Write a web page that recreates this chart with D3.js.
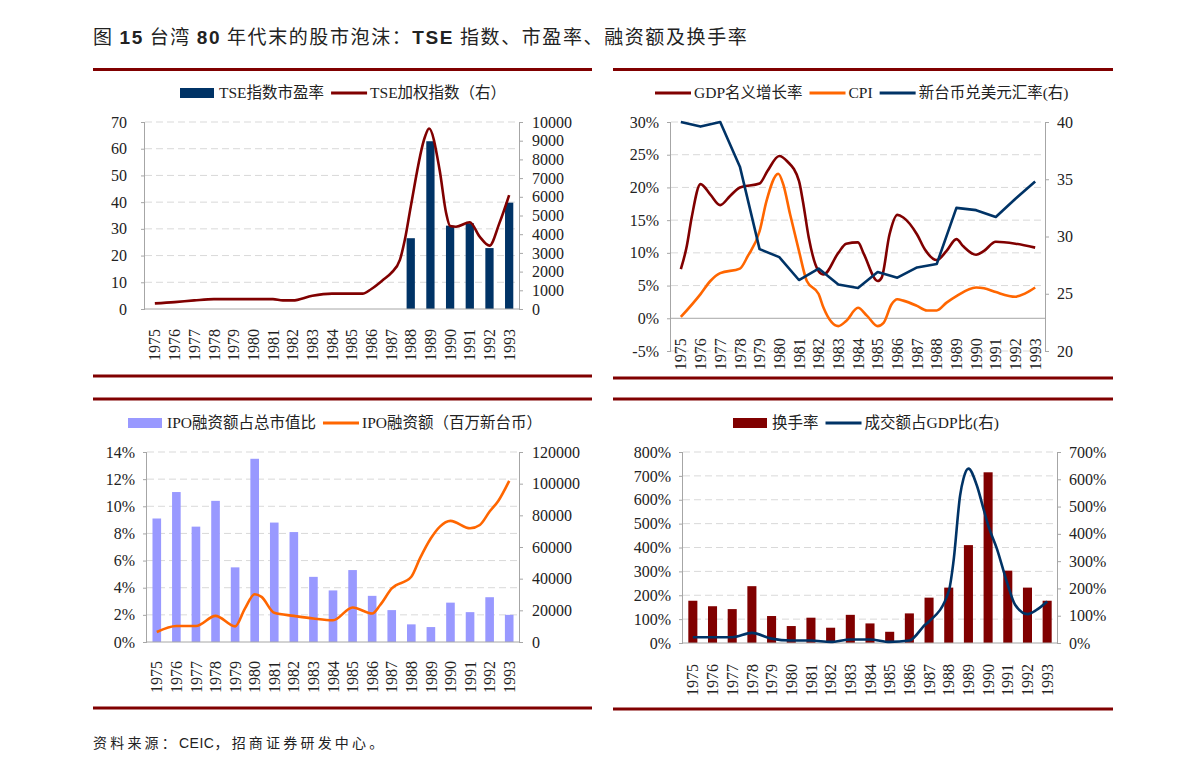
<!DOCTYPE html>
<html>
<head>
<meta charset="utf-8">
<script src="https://cdn.jsdelivr.net/npm/d3@7/dist/d3.min.js"></script>
<style>
  body { margin: 0; background: #fff; }
  svg { display: block; }
  text { font-family: "Liberation Serif", "Noto Sans CJK SC", serif; fill: #222; }
</style>
</head>
<body>
<div id="chart"></div>
<script>
// ---- data ----
const years = ["1975","1976","1977","1978","1979","1980","1981","1982","1983","1984",
               "1985","1986","1987","1988","1989","1990","1991","1992","1993"];

// panel 1: P/E (left) and TSE index (right)
const peRatio = [null,null,null,null,null,null,null,null,null,null,
                 null,null,null,26.5,62.8,31.2,32.1,22.8,39.8];
const tseIndex = [[1975,300],[1976,370],[1977,460],[1978,530],[1979,530],[1980,530],[1981,530],
  [1981.5,460],[1982,460],[1983,710],[1984,820],[1985,820],[1985.55,820],[1986,1070],[1986.6,1560],
  [1987,1920],[1987.45,2630],[1987.7,3700],[1988,5470],[1988.72,9200],[1988.93,9650],[1989.47,7420],
  [1989.8,5120],[1990,4440],[1990.3,4400],[1991,4640],[1991.5,3870],[1992,3390],[1992.5,4580],[1993,6090]];

// panel 2: nominal GDP growth, CPI (left, %) and TWD/USD (right)
const gdpGrowth = [[1975,7.5],[1975.3,11.0],[1975.55,15.4],[1976,20.5],[1976.5,18.9],[1977,17.3],
  [1977.5,18.7],[1978,20.0],[1979,20.6],[1979.4,22.5],[1980,24.8],[1980.4,24.0],[1981,21.0],
  [1981.2,17.9],[1981.5,12.3],[1982,7.2],[1982.25,6.7],[1983,10.0],[1983.4,11.4],[1984,11.6],
  [1984.3,9.8],[1985,5.7],[1985.2,6.2],[1985.6,12.8],[1986,15.8],[1986.3,15.4],[1987,12.8],
  [1987.4,10.5],[1988,8.9],[1988.5,10.3],[1989,12.1],[1989.35,11.0],[1990,9.7],[1990.4,10.3],
  [1991,11.7],[1992,11.4],[1993,10.8]];
const cpi = [[1975,0.2],[1976,3.7],[1976.5,5.7],[1977,6.9],[1978,7.6],[1978.4,9.5],[1979,13.3],
  [1979.35,17.9],[1979.95,22.1],[1980.2,20.5],[1980.55,15.9],[1981,10.3],[1981.4,5.7],[1982,3.7],
  [1982.25,1.6],[1983,-1.2],[1983.4,-0.4],[1984,1.6],[1984.45,0.4],[1985,-1.2],[1985.3,-0.7],
  [1985.7,2.1],[1986,2.9],[1986.3,2.7],[1987,1.9],[1987.5,1.2],[1988,1.2],[1988.5,2.4],[1989,3.4],
  [1990,4.7],[1990.4,4.6],[1991,4.0],[1992,3.3],[1992.5,3.8],[1993,4.7]];
const twdUsd = [40.0,39.6,40.0,36.1,28.9,28.2,26.2,27.2,25.8,25.5,26.9,26.4,27.3,27.6,32.5,32.3,31.7,33.3,34.8];

// panel 3: IPO share of market cap (left, %) and IPO amount (right, NT$ mn)
const ipoShare = [9.1,11.05,8.5,10.4,5.5,13.5,8.8,8.1,4.8,3.8,5.3,3.4,2.35,1.3,1.1,2.9,2.2,3.3,2.0];
const ipoAmount = [[1975,6300],[1976,10100],[1977,10100],[1978,16500],[1979,9900],[1979.5,21100],
  [1980,30200],[1980.35,28500],[1981,18400],[1982,16500],[1983,14800],[1984,13700],[1985,21800],
  [1986,18000],[1986.4,23200],[1987,33800],[1988,41200],[1988.44,52800],[1989,65500],[1989.46,72900],
  [1990,76500],[1991,71800],[1991.5,73900],[1992,82400],[1992.44,89100],[1993,101800]];

// panel 4: turnover (left, %) and trading value / GDP (right, %)
const turnover = [177,154,142,238,113,71,106,64,118,82,47,124,190,232,410,715,303,232,177];
const tradeGdp = [[1975,21],[1976,21],[1977,21],[1978,37],[1979,16],[1980,9],[1981,9],[1982,4],
  [1983,13],[1984,13],[1985,4],[1986,9],[1986.8,67],[1987,79],[1988,189],[1988.24,298],[1988.58,542],
  [1988.75,603],[1989,639],[1989.42,579],[1989.76,493],[1990,432],[1990.44,347],[1991,213],
  [1991.37,140],[1992,106],[1992.48,122],[1993,152]];

const leftTicks1 = [0,10,20,30,40,50,60,70];
const rightTicks1 = [0,1000,2000,3000,4000,5000,6000,7000,8000,9000,10000];
const leftTicks2 = [-5,0,5,10,15,20,25,30];
const rightTicks2 = [20,25,30,35,40];
const leftTicks3 = [0,2,4,6,8,10,12,14];
const rightTicks3 = [0,20000,40000,60000,80000,100000,120000];
const leftTicks4 = [0,100,200,300,400,500,600,700,800];
const rightTicks4 = [0,100,200,300,400,500,600,700];

const W = 1190, H = 771;
const RED = "#800000", NAVY = "#003366", ORANGE = "#FF6600", LILAC = "#9999FF";
const AXIS = "#a6a6a6", GRID = "#d9d9d9";

const svg = d3.select("#chart").append("svg").attr("width", W).attr("height", H);

// title
const title = svg.append("text").attr("x", 93).attr("y", 44).style("font-size", "19px")
  .style("font-family", "'Noto Sans CJK SC', sans-serif").style("letter-spacing", "1.6px");
[["图 ", false], ["15", true], [" 台湾 ", false], ["80", true], [" 年代末的股市泡沫：", false],
 ["TSE", true], [" 指数、市盈率、融资额及换手率", false]].forEach(([t, b]) => {
  const s = title.append("tspan").text(t);
  if (b) s.style("font-family", "'Liberation Sans', Arial, sans-serif").style("font-weight", "bold");
});

const foot = svg.append("text").attr("x", 93).attr("y", 748).style("font-size", "14px")
  .style("font-family", "'Noto Sans CJK SC', sans-serif").style("letter-spacing", "3.2px");
foot.append("tspan").text("资料来源：");
foot.append("tspan").style("font-family", "'Liberation Sans', Arial, sans-serif").style("letter-spacing", "0.5px").text("CEIC");
foot.append("tspan").text("，招商证券研发中心。");

// panel rules
[[93, 592, 69.5], [93, 592, 376], [613, 1113, 69.5], [613, 1113, 378],
 [93, 592, 399], [93, 592, 708], [613, 1113, 399], [613, 1113, 709]].forEach(([x1, x2, y]) => {
  svg.append("line").attr("x1", x1).attr("x2", x2).attr("y1", y).attr("y2", y)
    .attr("stroke", RED).attr("stroke-width", 3);
});

function drawPanel(cfg) {
  const g = svg.append("g");
  const xb = d3.scaleBand().domain(years).range([cfg.left, cfg.right]);
  const xl = d3.scaleLinear().domain([1974.5, 1993.5]).range([cfg.left, cfg.right]);
  const yl = d3.scaleLinear().domain(cfg.lDomain).range([cfg.bottom, cfg.top]);
  const yr = d3.scaleLinear().domain(cfg.rDomain).range([cfg.bottom, cfg.top]);

  // grid
  g.append("g").selectAll("line").data(cfg.lTicks.filter(d => d !== cfg.baseValue))
    .join("line")
    .attr("x1", cfg.left).attr("x2", cfg.right)
    .attr("y1", d => yl(d)).attr("y2", d => yl(d))
    .attr("stroke", GRID).attr("stroke-dasharray", "7,4");

  // axes
  const la = g.append("g").attr("transform", `translate(${cfg.left},0)`)
    .call(d3.axisLeft(yl).tickValues(cfg.lTicks).tickFormat(cfg.lFmt).tickSize(4).tickPadding(cfg.lPad));
  const ra = g.append("g").attr("transform", `translate(${cfg.right},0)`)
    .call(d3.axisRight(yr).tickValues(cfg.rTicks).tickFormat(cfg.rFmt).tickSize(4).tickPadding(cfg.rPad));
  [la, ra].forEach(a => {
    a.selectAll("path, line").attr("stroke", AXIS);
    a.select(".domain").attr("d", a === la
      ? `M-0.5,${cfg.top}V${cfg.bottom}` : `M0.5,${cfg.top}V${cfg.bottom}`);
    a.selectAll("text").style("font-size", "16px").attr("fill", "#222");
  });

  // bars
  if (cfg.bars) {
    const bw = xb.bandwidth() * cfg.barRatio;
    g.append("g").selectAll("rect")
      .data(years.map((y, i) => ({ y, v: cfg.bars[i] })).filter(d => d.v != null))
      .join("rect")
      .attr("x", d => xb(d.y) + (xb.bandwidth() - bw) / 2)
      .attr("width", bw)
      .attr("y", d => yl(d.v))
      .attr("height", d => yl(cfg.baseValue) - yl(d.v))
      .attr("fill", cfg.barColor);
  }

  // baseline
  g.append("line").attr("x1", cfg.left).attr("x2", cfg.right)
    .attr("y1", yl(cfg.baseValue)).attr("y2", yl(cfg.baseValue)).attr("stroke", AXIS);

  // lines
  (cfg.lines || []).forEach(ln => {
    const ys = ln.axis === "r" ? yr : yl;
    g.append("path").datum(ln.data)
      .attr("fill", "none").attr("stroke", ln.color).attr("stroke-width", 2.6)
      .attr("stroke-linejoin", "round")
      .attr("d", d3.line().x(d => xl(d[0])).y(d => ys(d[1])).curve(ln.curve || d3.curveMonotoneX));
  });

  // year labels
  g.append("g").selectAll("text").data(years).join("text")
    .attr("transform", d => `translate(${xb(d) + xb.bandwidth() / 2},${yl(cfg.baseValue) + cfg.labelGap}) rotate(-90)`)
    .attr("text-anchor", "end").attr("dy", "0.35em")
    .style("font-size", "16px").text(d => d);

  // legend
  let lx = cfg.legendX;
  const ly = cfg.legendY;
  cfg.legend.forEach(item => {
    if (item.type === "bar") {
      g.append("rect").attr("x", lx).attr("y", ly - 5).attr("width", 34).attr("height", 10).attr("fill", item.color);
    } else {
      g.append("line").attr("x1", lx).attr("x2", lx + 36).attr("y1", ly).attr("y2", ly)
        .attr("stroke", item.color).attr("stroke-width", 3);
    }
    const t = g.append("text").attr("x", lx + 39).attr("y", ly).attr("dy", "0.35em")
      .style("font-size", "15.5px").text(item.label);
    lx += 39 + t.node().getComputedTextLength() + 7;
  });
}

const fmtPct = d => d + "%";

drawPanel({
  left: 145, right: 519, top: 122, bottom: 309,
  lDomain: [0, 70], rDomain: [0, 10000], lTicks: leftTicks1, rTicks: rightTicks1,
  lFmt: d => d, rFmt: d => d, lPad: 14, rPad: 9, baseValue: 0, labelGap: 20,
  bars: peRatio, barColor: NAVY, barRatio: 0.42,
  lines: [{ data: tseIndex, color: RED, axis: "r" }],
  legendX: 180, legendY: 93,
  legend: [{ type: "bar", color: NAVY, label: "TSE指数市盈率" }, { type: "line", color: RED, label: "TSE加权指数（右）" }]
});

drawPanel({
  left: 671, right: 1045, top: 122, bottom: 351,
  lDomain: [-5, 30], rDomain: [20, 40], lTicks: leftTicks2, rTicks: rightTicks2,
  lFmt: fmtPct, rFmt: d => d, lPad: 8, rPad: 8, baseValue: 0, labelGap: 20,
  lines: [
    { data: gdpGrowth, color: RED, axis: "l" },
    { data: cpi, color: ORANGE, axis: "l" },
    { data: years.map((y, i) => [+y, twdUsd[i]]), color: NAVY, axis: "r", curve: d3.curveLinear }
  ],
  legendX: 655, legendY: 93,
  legend: [{ type: "line", color: RED, label: "GDP名义增长率" }, { type: "line", color: ORANGE, label: "CPI" },
           { type: "line", color: NAVY, label: "新台币兑美元汇率(右)" }]
});

drawPanel({
  left: 147, right: 519, top: 452, bottom: 642,
  lDomain: [0, 14], rDomain: [0, 120000], lTicks: leftTicks3, rTicks: rightTicks3,
  lFmt: fmtPct, rFmt: d => d, lPad: 8, rPad: 9, baseValue: 0, labelGap: 19,
  bars: ipoShare, barColor: LILAC, barRatio: 0.44,
  lines: [{ data: ipoAmount, color: ORANGE, axis: "r" }],
  legendX: 128, legendY: 423,
  legend: [{ type: "bar", color: LILAC, label: "IPO融资额占总市值比" }, { type: "line", color: ORANGE, label: "IPO融资额（百万新台币）" }]
});

drawPanel({
  left: 683, right: 1057, top: 452, bottom: 643,
  lDomain: [0, 800], rDomain: [0, 700], lTicks: leftTicks4, rTicks: rightTicks4,
  lFmt: fmtPct, rFmt: fmtPct, lPad: 8, rPad: 8, baseValue: 0, labelGap: 21,
  bars: turnover, barColor: RED, barRatio: 0.46,
  lines: [{ data: tradeGdp, color: NAVY, axis: "r" }],
  legendX: 733, legendY: 423,
  legend: [{ type: "bar", color: RED, label: "换手率" }, { type: "line", color: NAVY, label: "成交额占GDP比(右)" }]
});
</script>
</body>
</html>
